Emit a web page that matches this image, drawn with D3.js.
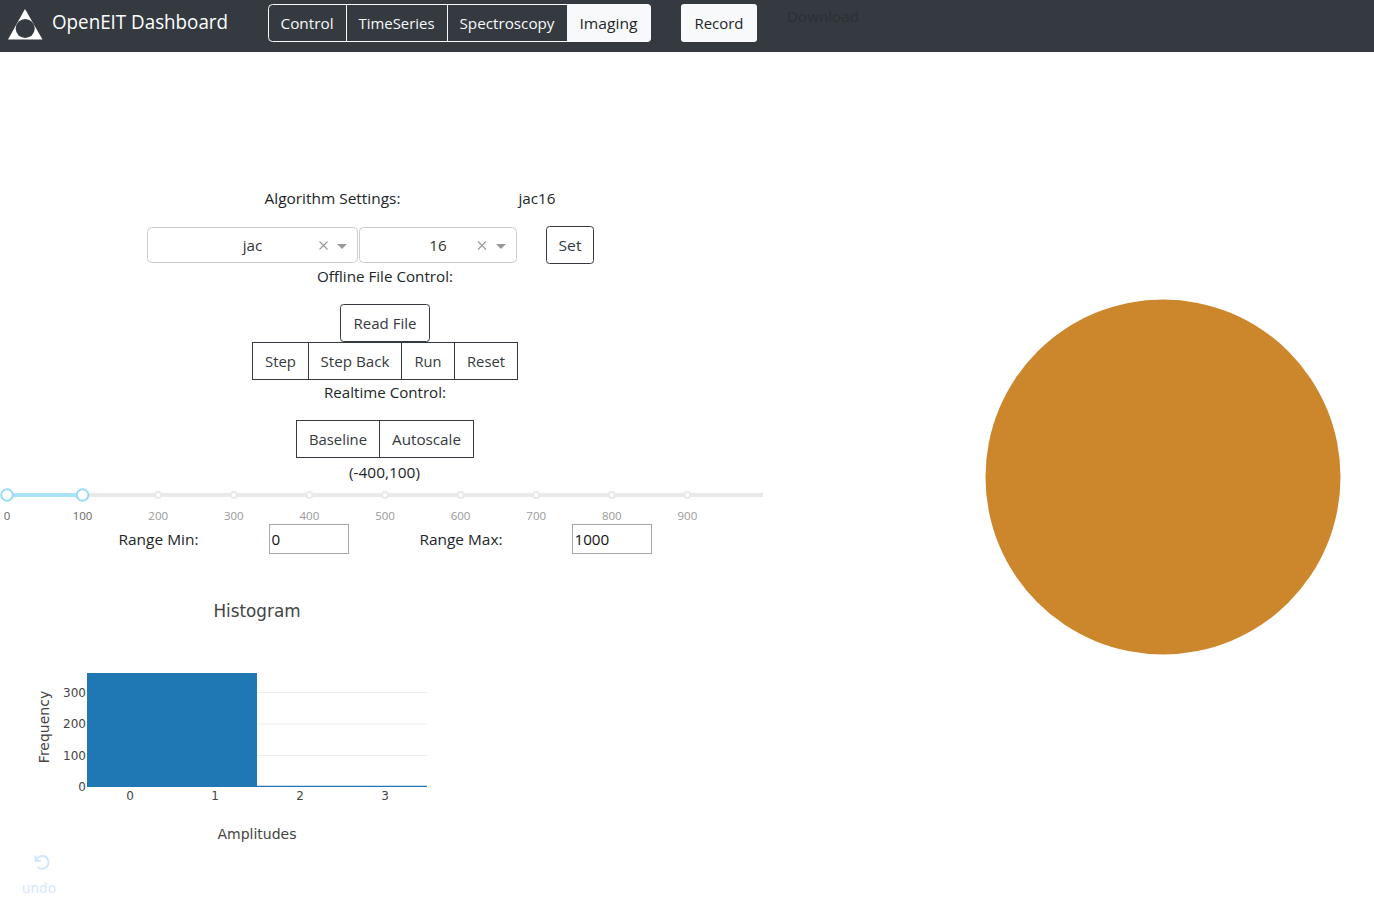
<!DOCTYPE html>
<html>
<head>
<meta charset="utf-8">
<title>OpenEIT Dashboard</title>
<script src="https://cdnjs.cloudflare.com/ajax/libs/d3/7.8.5/d3.min.js"></script>
<style>
  html, body { margin: 0; padding: 0; background: #fff; overflow: hidden; }
  svg { display: block; }
  text { font-family: "Open Sans", "Noto Sans", sans-serif; }
  .plot text { font-family: "DejaVu Sans", sans-serif; }
</style>
</head>
<body>
<div id="chart"></div>
<script>
const WIDTH = 1374;
const HEIGHT = 902;

// histogram values
const ampTicks = [0, 1, 2, 3];
const freqTicks = [0, 100, 200, 300];
const binStarts = [-0.5, 1.5];
const binEnds = [1.5, 3.5];
const binFreqs = [362, 4];

// range slider
const sliderMarks = [0, 100, 200, 300, 400, 500, 600, 700, 800, 900];
const sliderRange = [0, 100];

// labels
const navTabs = ["Control", "TimeSeries", "Spectroscopy", "Imaging"];
const offlineBtns = ["Step", "Step Back", "Run", "Reset"];
const realtimeBtns = ["Baseline", "Autoscale"];

const DARK = "#343a40";
const INK = "#212529";

var svg = d3.select("div#chart").append("svg")
    .attr("width", WIDTH)
    .attr("height", HEIGHT);

function label(g, x, y, txt, size, fill, anchor, width) {
    var t = g.append("text")
        .attr("x", x).attr("y", y)
        .attr("font-size", size)
        .attr("fill", fill || INK)
        .attr("text-anchor", anchor || "middle")
        .text(txt);
    if (width) t.attr("textLength", width).attr("lengthAdjust", "spacingAndGlyphs");
    return t;
}

// row of joined outline buttons, edges holds the x of each divider
function btnGroup(g, edges, y, h, names, widths) {
    g.append("rect")
        .attr("x", edges[0] + 0.5).attr("y", y + 0.5)
        .attr("width", edges[edges.length - 1] - edges[0]).attr("height", h)
        .attr("rx", names.length > 1 ? 0 : 3)
        .attr("fill", "none").attr("stroke", DARK);
    names.forEach((n, i) => {
        if (i > 0) {
            g.append("line")
                .attr("x1", edges[i] + 0.5).attr("x2", edges[i] + 0.5)
                .attr("y1", y).attr("y2", y + h)
                .attr("stroke", DARK);
        }
        label(g, (edges[i] + edges[i + 1]) / 2 + 0.5, y + 24.5, n, 15.2, "#343a40", "middle", widths[i]);
    });
}

// ---- navbar ----
var nav = svg.append("g").attr("class", "nav");
nav.append("rect").attr("width", WIDTH).attr("height", 52).attr("fill", DARK);

nav.append("path").attr("d", "M25,9L42.5,39.5H8Z").attr("fill", "#fff");
nav.append("circle").attr("cx", 25.2).attr("cy", 28.5).attr("r", 9.5).attr("fill", DARK);

label(nav, 52, 29, "OpenEIT Dashboard", 19.6, "#fff", "start", 176);

var tabEdges = [268, 346, 447, 567, 651];
var tabWidths = [53, 76, 95, 58];
nav.append("rect").attr("x", 268.5).attr("y", 4.5).attr("width", 382).attr("height", 37)
    .attr("rx", 4).attr("fill", "none").attr("stroke", "#f8f9fa");
nav.append("path").attr("d", "M567,4H647a4,4 0 0 1 4,4V38a4,4 0 0 1 -4,4H567Z").attr("fill", "#f8f9fa");
navTabs.forEach((n, i) => {
    if (i > 0 && i < 3) {
        nav.append("line").attr("x1", tabEdges[i] + 0.5).attr("x2", tabEdges[i] + 0.5)
            .attr("y1", 4).attr("y2", 42).attr("stroke", "#f8f9fa");
    }
    label(nav, (tabEdges[i] + tabEdges[i + 1]) / 2 - (i == 3 ? 0.5 : 0), 29, n, 15.2, i == 3 ? INK : "#f8f9fa", "middle", tabWidths[i]);
});

nav.append("rect").attr("x", 681).attr("y", 4).attr("width", 76).attr("height", 38)
    .attr("rx", 3).attr("fill", "#f8f9fa");
label(nav, 719, 29, "Record", 15.2, INK, "middle", 49);
label(nav, 823, 22, "Download", 15.2, "#2b3036", "middle", 72);

// ---- controls ----
var ctrl = svg.append("g").attr("class", "controls");
label(ctrl, 332.5, 204, "Algorithm Settings:", 15.2, INK, "middle", 136);
label(ctrl, 537, 204, "jac16", 15.2, INK, "middle", 37);

function dropdown(x, w, val, valX, crossX, caretX) {
    ctrl.append("rect")
        .attr("x", x + 0.5).attr("y", 227.5).attr("width", w).attr("height", 35)
        .attr("rx", 4).attr("fill", "#fff").attr("stroke", "#ccc");
    label(ctrl, valX, 251, val, 15.2, "#333");
    ctrl.append("path")
        .attr("d", `M${crossX - 4},241.5l8,8M${crossX + 4},241.5l-8,8`)
        .attr("stroke", "#999").attr("stroke-width", 1.1).attr("fill", "none");
    ctrl.append("path")
        .attr("d", `M${caretX - 5},244h10l-5,5Z`)
        .attr("fill", "#999");
}
dropdown(147, 210, "jac", 252.5, 323.5, 342);
dropdown(359, 157, "16", 438, 482, 501);

btnGroup(ctrl, [546, 593], 226, 37, ["Set"], [23]);
label(ctrl, 385, 282, "Offline File Control:", 15.2, INK, "middle", 136);

btnGroup(ctrl, [340, 429], 304, 37, ["Read File"], [63]);
btnGroup(ctrl, [252, 308, 401, 454, 517], 342, 37, offlineBtns, [31, 69, 27, 38]);
label(ctrl, 385, 398, "Realtime Control:", 15.2, INK, "middle", 122);
btnGroup(ctrl, [296, 379, 473], 420, 37, realtimeBtns, [58, 69]);
label(ctrl, 384.5, 478, "(-400,100)", 15.2, INK, "middle", 71);

// ---- range slider ----
var sx = d3.scaleLinear().domain([0, 1000]).range([7, 763]);
var slider = svg.append("g").attr("class", "slider");
slider.append("line")
    .attr("x1", sx(0)).attr("x2", sx(1000)).attr("y1", 495).attr("y2", 495)
    .attr("stroke", "#e9e9e9").attr("stroke-width", 4);
slider.append("line")
    .attr("x1", sx(sliderRange[0])).attr("x2", sx(sliderRange[1])).attr("y1", 495).attr("y2", 495)
    .attr("stroke", "#abe2fb").attr("stroke-width", 4);
slider.selectAll("circle.dot").data(sliderMarks.filter(d => !sliderRange.includes(d)))
    .join("circle")
    .attr("class", "dot")
    .attr("cx", d => sx(d)).attr("cy", 495).attr("r", 3)
    .attr("fill", "#fff").attr("stroke", "#e9e9e9").attr("stroke-width", 2);
slider.selectAll("circle.handle").data(sliderRange)
    .join("circle")
    .attr("class", "handle")
    .attr("cx", d => sx(d)).attr("cy", 495).attr("r", 5.8)
    .attr("fill", "#fff").attr("stroke", "#96dbfa").attr("stroke-width", 2);
slider.selectAll("text").data(sliderMarks)
    .join("text")
    .attr("x", d => sx(d)).attr("y", 520)
    .attr("text-anchor", "middle")
    .attr("font-size", 11.5)
    .attr("fill", d => sliderRange.includes(d) ? "#666" : "#999")
    .text(d => d);

function rangeInput(x, val) {
    ctrl.append("rect").attr("x", x + 0.5).attr("y", 524.5).attr("width", 79).attr("height", 29)
        .attr("fill", "#fff").attr("stroke", "#a9a9a9");
    label(ctrl, x + 2.5, 545, val, 15.2, "#111", "start");
}
label(ctrl, 158.5, 545, "Range Min:", 15.2, INK, "middle", 80);
rangeInput(269, "0");
label(ctrl, 461, 545, "Range Max:", 15.2, INK, "middle", 83);
rangeInput(572, "1000");

// ---- histogram ----
var x = d3.scaleLinear().domain([-0.5, 3.5]).range([87, 427]);
var y = d3.scaleLinear().domain([0, 362]).range([787, 673]);
var plot = svg.append("g").attr("class", "plot");

plot.selectAll("line.grid").data(freqTicks.slice(1))
    .join("line")
    .attr("class", "grid")
    .attr("x1", 87).attr("x2", 427)
    .attr("y1", d => y(d)).attr("y2", d => y(d))
    .attr("stroke", "#eee");

plot.selectAll("rect.bar").data(binFreqs)
    .join("rect")
    .attr("class", "bar")
    .attr("x", (d, i) => x(binStarts[i]))
    .attr("width", (d, i) => x(binEnds[i]) - x(binStarts[i]))
    .attr("y", d => y(d))
    .attr("height", d => y(0) - y(d))
    .attr("fill", "#1f77b4");

var xAxis = plot.append("g")
    .attr("transform", "translate(0,788)")
    .call(d3.axisBottom(x).tickValues(ampTicks).tickSize(0).tickPadding(3).tickFormat(d3.format("d")));
var yAxis = plot.append("g")
    .attr("transform", "translate(87,0)")
    .call(d3.axisLeft(y).tickValues(freqTicks).tickSize(0).tickPadding(1).tickFormat(d3.format("d")));
xAxis.select(".domain").remove();
yAxis.select(".domain").remove();
plot.selectAll(".tick text").attr("font-size", 12).attr("fill", "#444")
    .style("font-family", '"DejaVu Sans", sans-serif');

label(plot, 257, 617, "Histogram", 16.8, "#444");
label(plot, 257, 839, "Amplitudes", 14, "#444");
label(plot, 0, 0, "Frequency", 14, "#444")
    .attr("transform", "translate(49,727) rotate(-90)");

// undo button from the plotly editor
var undo = svg.append("g").attr("class", "undo");
undo.append("path")
    .attr("d", "M35.5,855.5v5.5h5.5M36,860.5A6.4,6.4 0 1 1 37.5,866.8")
    .attr("fill", "none").attr("stroke", "#cfe5fb").attr("stroke-width", 1.8);
label(undo, 39, 893, "undo", 14, "#d4e6fb");

// ---- imaging panel: reconstruction disc at a single value ----
svg.append("circle").attr("class", "disc")
    .attr("cx", 1163).attr("cy", 477).attr("r", 177.5)
    .attr("fill", "#cc862c");
</script>
</body>
</html>
